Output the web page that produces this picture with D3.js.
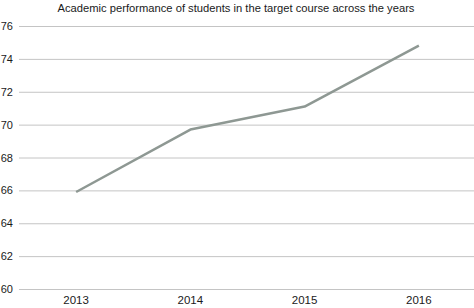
<!DOCTYPE html>
<html><head><meta charset="utf-8">
<script src="https://cdn.jsdelivr.net/npm/d3@7"></script>
<style>body{margin:0;background:#fff}svg{display:block}</style>
</head><body>
<script>
const years = ["2013","2014","2015","2016"];
const scores = [65.9, 69.7, 71.1, 74.8];
const yTicks = [60,62,64,66,68,70,72,74,76];
const title = "Academic performance of students in the target course across the years";

const W = 474, H = 308;
const svg = d3.select("body").append("svg").attr("width", W).attr("height", H);
const font = "Liberation Sans, Arial, sans-serif";

const x = d3.scaleBand().domain(years).range([19, 476]);
const y = d3.scaleLinear().domain([60, 76]).range([289, 26]);

svg.append("text").attr("x", 236).attr("y", 12).attr("text-anchor", "middle")
  .attr("font-family", font).attr("font-size", 11.2).attr("fill", "#1a1a1a").text(title);

const ya = svg.append("g").attr("transform", "translate(19,0)")
  .call(d3.axisLeft(y).tickValues(yTicks).tickSize(-455).tickPadding(6).tickFormat(d3.format("d")));
ya.select(".domain").remove();
ya.selectAll(".tick line").attr("stroke", "#c4c4c4").attr("stroke-width", 1);
ya.selectAll(".tick text").attr("font-family", font).attr("font-size", 11).attr("fill", "#1a1a1a");

const xa = svg.append("g").attr("transform", "translate(0,289)")
  .call(d3.axisBottom(x).tickSize(0).tickPadding(7));
xa.select(".domain").remove();
xa.selectAll(".tick text").attr("font-family", font).attr("font-size", 11.5).attr("fill", "#1a1a1a");

const line = d3.line().x((d, i) => x(years[i]) + x.bandwidth() / 2).y(d => y(d));
svg.append("path").datum(scores).attr("d", line).attr("fill", "none")
  .attr("stroke", "#8e9893").attr("stroke-width", 2.5).attr("stroke-linejoin", "round");
</script>
</body></html>
